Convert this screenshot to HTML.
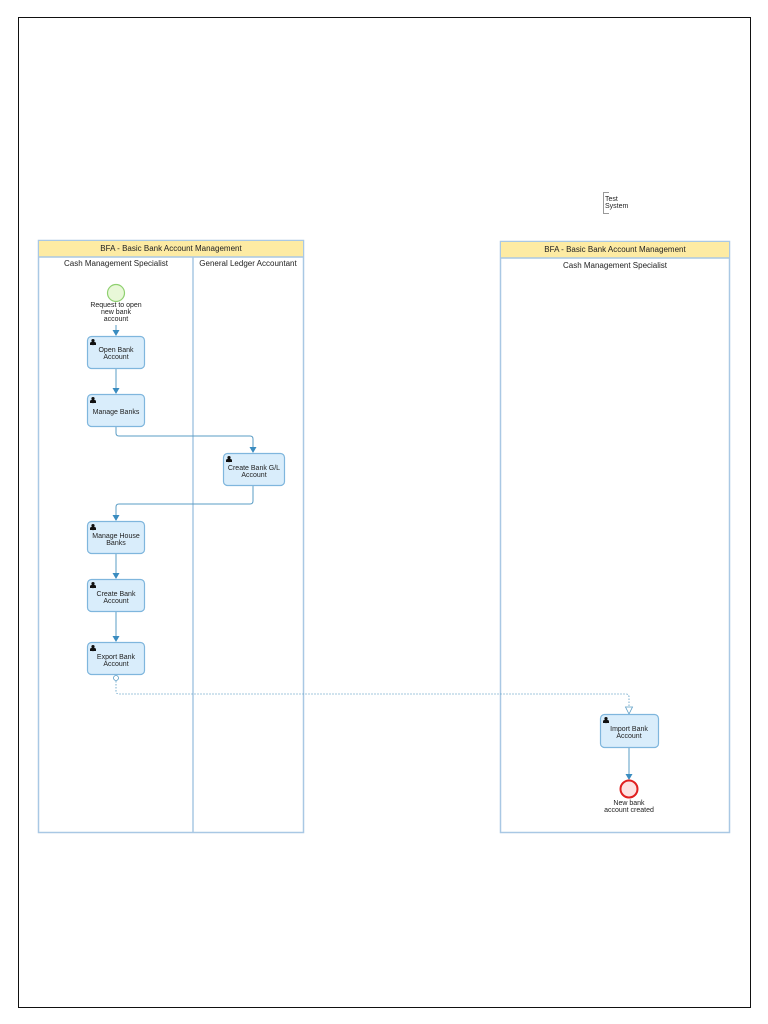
<!DOCTYPE html>
<html><head><meta charset="utf-8"><style>
html,body{margin:0;padding:0;background:#fff;}
svg{display:block;}
text{font-family:"Liberation Sans",sans-serif;fill:#222;}
</style></head><body>
<svg width="768" height="1024" viewBox="0 0 768 1024" xmlns="http://www.w3.org/2000/svg">
<defs>
<marker id="ar" markerWidth="8" markerHeight="8" refX="4" refY="7" orient="auto" markerUnits="userSpaceOnUse">
</marker>
<g id="user"><path d="M0,6 h6 v-1.5 q0,-1.5 -1.5,-1.5 h-3 q-1.5,0 -1.5,1.5z M3,3 a1.6,1.6 0 1,0 0.01,0z" fill="#111"/><circle cx="3" cy="1.6" r="1.6" fill="#111"/></g>
</defs>
<rect x="18.5" y="17.5" width="732" height="990" fill="#fff" stroke="#111" stroke-width="1"/>

<!-- Left pool -->
<rect x="38.5" y="240.5" width="265" height="592" fill="#fff" stroke="#a9c8e4" stroke-width="1.5"/>
<rect x="39" y="241" width="264" height="16" fill="#fdeba3"/>
<line x1="38.5" y1="257" x2="303.5" y2="257" stroke="#a9c8e4" stroke-width="1.5"/>
<line x1="193" y1="257" x2="193" y2="832" stroke="#a9c8e4" stroke-width="1.5"/>
<text x="171" y="251" font-size="8" text-anchor="middle">BFA - Basic Bank Account Management</text>
<text x="116" y="266" font-size="8" text-anchor="middle">Cash Management Specialist</text>
<text x="248" y="266" font-size="8" text-anchor="middle">General Ledger Accountant</text>

<!-- Right pool -->
<rect x="500.5" y="241.5" width="229" height="591" fill="#fff" stroke="#a9c8e4" stroke-width="1.5"/>
<rect x="501" y="242" width="228" height="16" fill="#fdeba3"/>
<line x1="500.5" y1="258" x2="729.5" y2="258" stroke="#a9c8e4" stroke-width="1.5"/>
<text x="615" y="252" font-size="8" text-anchor="middle">BFA - Basic Bank Account Management</text>
<text x="615" y="268" font-size="8" text-anchor="middle">Cash Management Specialist</text>

<!-- Test system annotation -->
<path d="M609,192.5 H603.5 V213.5 H609" fill="none" stroke="#999" stroke-width="1"/>
<text x="605" y="201" font-size="7">Test</text>
<text x="605" y="208" font-size="7">System</text>

<!-- Start event -->
<circle cx="116" cy="293" r="8.5" fill="#e8f8d8" stroke="#8fd070" stroke-width="1.2"/>
<text font-size="7" text-anchor="middle"><tspan x="116" y="307">Request to open</tspan><tspan x="116" y="314">new bank</tspan><tspan x="116" y="321">account</tspan></text>

<!-- connectors -->
<g stroke="#5a9cc4" stroke-width="1" fill="none">
<line x1="116" y1="325" x2="116" y2="332"/>
<line x1="116" y1="369" x2="116" y2="390"/>
<path d="M116,427 V433 Q116,436 119,436 H250 Q253,436 253,439 V449"/>
<path d="M253,486 V501 Q253,504 250,504 H119 Q116,504 116,507 V517"/>
<line x1="116" y1="554" x2="116" y2="575"/>
<line x1="116" y1="612" x2="116" y2="638"/>
<line x1="629" y1="748" x2="629" y2="776"/>
</g>
<g fill="#3a8cc0">
<path d="M112.5,330 L119.5,330 L116,336z"/>
<path d="M112.5,388 L119.5,388 L116,394z"/>
<path d="M249.5,447 L256.5,447 L253,453z"/>
<path d="M112.5,515 L119.5,515 L116,521z"/>
<path d="M112.5,573 L119.5,573 L116,579z"/>
<path d="M112.5,636 L119.5,636 L116,642z"/>
<path d="M625.5,774 L632.5,774 L629,780z"/>
</g>
<!-- message flow -->
<circle cx="116" cy="678" r="2.5" fill="#fff" stroke="#5a9cc4" stroke-width="0.8"/>
<path d="M116,681 V691 Q116,694 119,694 H626 Q629,694 629,697 V707" fill="none" stroke="#5a9cc4" stroke-width="0.8" stroke-dasharray="1.5,1.5"/>
<path d="M625.5,707 L632.5,707 L629,714z" fill="#fff" stroke="#5a9cc4" stroke-width="0.8"/>

<!-- tasks -->
<g stroke="#7fb6dd" stroke-width="1.2" fill="#d9edfb">
<rect x="87.5" y="336.5" width="57" height="32" rx="4"/>
<rect x="87.5" y="394.5" width="57" height="32" rx="4"/>
<rect x="223.5" y="453.5" width="61" height="32" rx="4"/>
<rect x="87.5" y="521.5" width="57" height="32" rx="4"/>
<rect x="87.5" y="579.5" width="57" height="32" rx="4"/>
<rect x="87.5" y="642.5" width="57" height="32" rx="4"/>
<rect x="600.5" y="714.5" width="58" height="33" rx="4"/>
</g>
<use href="#user" x="90" y="339"/>
<use href="#user" x="90" y="397"/>
<use href="#user" x="226" y="456"/>
<use href="#user" x="90" y="524"/>
<use href="#user" x="90" y="582"/>
<use href="#user" x="90" y="645"/>
<use href="#user" x="603" y="717"/>
<g font-size="7" text-anchor="middle">
<text><tspan x="116" y="352">Open Bank</tspan><tspan x="116" y="359">Account</tspan></text>
<text x="116" y="414">Manage Banks</text>
<text><tspan x="254" y="470">Create Bank G/L</tspan><tspan x="254" y="477">Account</tspan></text>
<text><tspan x="116" y="538">Manage House</tspan><tspan x="116" y="545">Banks</tspan></text>
<text><tspan x="116" y="596">Create Bank</tspan><tspan x="116" y="603">Account</tspan></text>
<text><tspan x="116" y="659">Export Bank</tspan><tspan x="116" y="666">Account</tspan></text>
<text><tspan x="629" y="731">Import Bank</tspan><tspan x="629" y="738">Account</tspan></text>
</g>

<!-- End event -->
<circle cx="629" cy="789" r="8.5" fill="#fde2e2" stroke="#e02020" stroke-width="2"/>
<text font-size="7" text-anchor="middle"><tspan x="629" y="805">New bank</tspan><tspan x="629" y="812">account created</tspan></text>
</svg>
</body></html>
